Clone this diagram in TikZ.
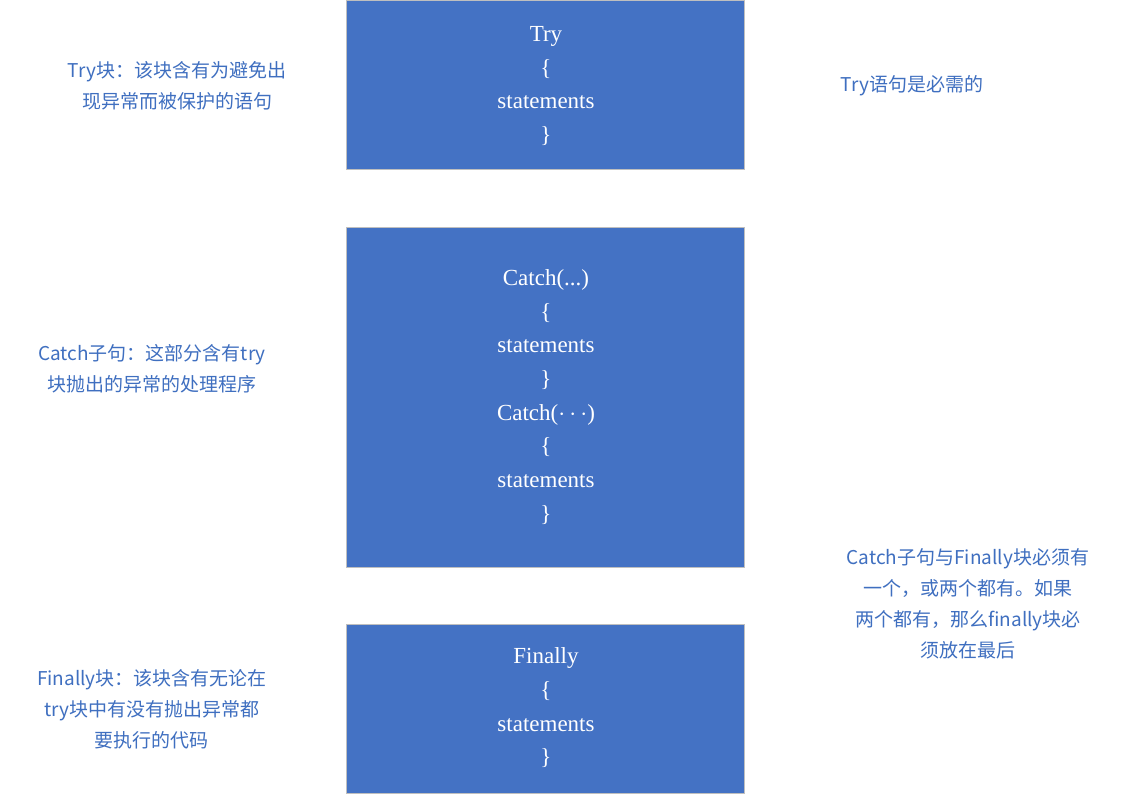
\documentclass[tikz,border=0pt]{standalone}
\usepackage{fontspec}
\setmainfont{Liberation Serif}
\newfontfamily\cjk{Noto Sans CJK SC}
\definecolor{boxblue}{HTML}{4472C4}
\definecolor{txtblue}{HTML}{3F6FC0}
\tikzset{
  codebox/.style={draw=black!25, line width=1pt, fill=boxblue},
  codetxt/.style={text=white, align=center, font=\fontsize{23}{33.7}\selectfont},
  note/.style={text=txtblue, align=center, font=\cjk\fontsize{19}{31}\selectfont}
}
\begin{document}
\begin{tikzpicture}[x=1pt,y=-1pt]
\useasboundingbox (0,0) rectangle (1125,794);
\fill[white] (0,0) rectangle (1125,794);
\draw[codebox] (346,1) rectangle (744,170);
\draw[codebox] (346,228) rectangle (744,567);
\draw[codebox] (346,624) rectangle (744,793);
\node[codetxt] (t) at (546,86) {Try\\\{\\statements\\\}};
\node[codetxt] (c) at (546,397) {Catch(...)\\\{\\statements\\\}\\Catch(\textbf{$\cdots$})\\\{\\statements\\\}};
\node[codetxt] (f) at (546,708) {Finally\\\{\\statements\\\}};
\node[note] (n1) at (177,86) {Try块：该块含有为避免出\\现异常而被保护的语句};
\node[note] (n2) at (152,369) {Catch子句：这部分含有try\\块抛出的异常的处理程序};
\node[note] (n3) at (152,709) {Finally块：该块含有无论在\\try块中有没有抛出异常都\\要执行的代码};
\node[note] (n4) at (912,86) {Try语句是必需的};
\node[note] (n5) at (968,604) {Catch子句与Finally块必须有\\一个，或两个都有。如果\\两个都有，那么finally块必\\须放在最后};
\end{tikzpicture}
\end{document}
